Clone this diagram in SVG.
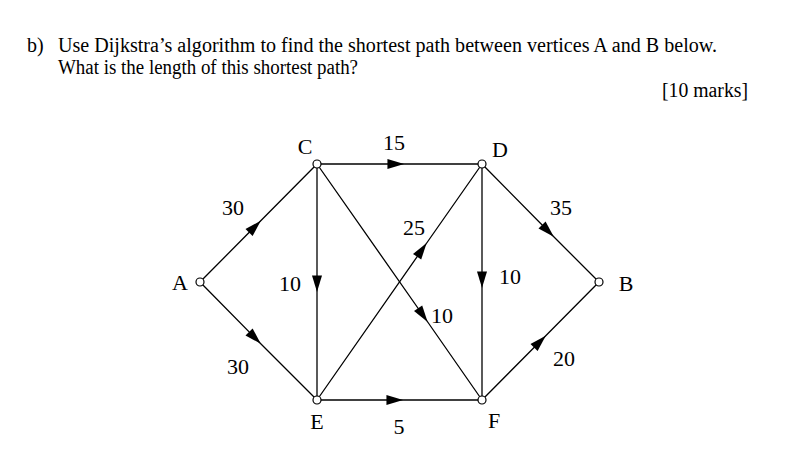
<svg xmlns="http://www.w3.org/2000/svg" width="785" height="451" viewBox="0 0 785 451">
<style>
text{font-family:"Liberation Serif","Times New Roman",serif;fill:#000}
.q{font-size:20px}
.l{font-size:22px}
.e{fill:none;stroke:#000;stroke-width:1.3;marker-mid:url(#ah)}
.n{fill:#fff;stroke:#000;stroke-width:1.2}
</style>
<defs>
<marker id="ah" markerUnits="userSpaceOnUse" markerWidth="20" markerHeight="20" refX="0" refY="0" viewBox="-16 -8 18 16" orient="auto" overflow="visible">
<path d="M1,0 L-14,-4.5 L-14,4.5 Z" fill="#000"/>
</marker>
</defs>
<rect width="785" height="451" fill="#fff"/>
<g id="question">
<text class="q" x="27" y="52">b)</text>
<text class="q" x="58" y="52" textLength="659" lengthAdjust="spacingAndGlyphs">Use Dijkstra’s algorithm to find the shortest path between vertices A and B below.</text>
<text class="q" x="58" y="74" textLength="300" lengthAdjust="spacingAndGlyphs">What is the length of this shortest path?</text>
<text class="q" x="662" y="97" textLength="86" lengthAdjust="spacingAndGlyphs">[10 marks]</text>
</g>
<g id="connectors">
<path class="e" d="M200,282 L260,221.5 L317,164"/>
<path class="e" d="M200,282 L260,343 L317,400"/>
<path class="e" d="M317,164 L317,291 L317,400"/>
<path class="e" d="M317,164 L403,164 L482,164"/>
<path class="e" d="M482,164 L553,236 L599,282"/>
<path class="e" d="M482,164 L482,287 L482,400"/>
<path class="e" d="M317,400 L426,244 L482,164"/>
<path class="e" d="M317,164 L427,321 L482,400"/>
<path class="e" d="M482,400 L545,336.5 L599,282"/>
<path class="e" d="M317,400 L402,400 L482,400"/>
</g>
<g id="edge-labels" class="l">
<text x="233" y="215" text-anchor="middle">30</text>
<text x="238" y="374" text-anchor="middle">30</text>
<text x="290" y="291" text-anchor="middle">10</text>
<text x="394" y="150" text-anchor="middle">15</text>
<text x="414" y="235" text-anchor="middle">25</text>
<text x="442" y="323" text-anchor="middle">10</text>
<text x="510" y="284" text-anchor="middle">10</text>
<text x="561" y="215" text-anchor="middle">35</text>
<text x="564" y="366" text-anchor="middle">20</text>
<text x="399" y="434" text-anchor="middle">5</text>
</g>
<g id="node-A"><circle class="n" cx="200" cy="282" r="4"/><text class="l" x="180" y="290" text-anchor="middle">A</text></g>
<g id="node-C"><circle class="n" cx="317" cy="164" r="4"/><text class="l" x="305" y="154" text-anchor="middle">C</text></g>
<g id="node-D"><circle class="n" cx="482" cy="164" r="4"/><text class="l" x="500" y="157" text-anchor="middle">D</text></g>
<g id="node-B"><circle class="n" cx="599" cy="282" r="4"/><text class="l" x="626" y="291" text-anchor="middle">B</text></g>
<g id="node-E"><circle class="n" cx="317" cy="400" r="4"/><text class="l" x="317" y="429" text-anchor="middle">E</text></g>
<g id="node-F"><circle class="n" cx="482" cy="400" r="4"/><text class="l" x="494" y="428" text-anchor="middle">F</text></g>
</svg>
